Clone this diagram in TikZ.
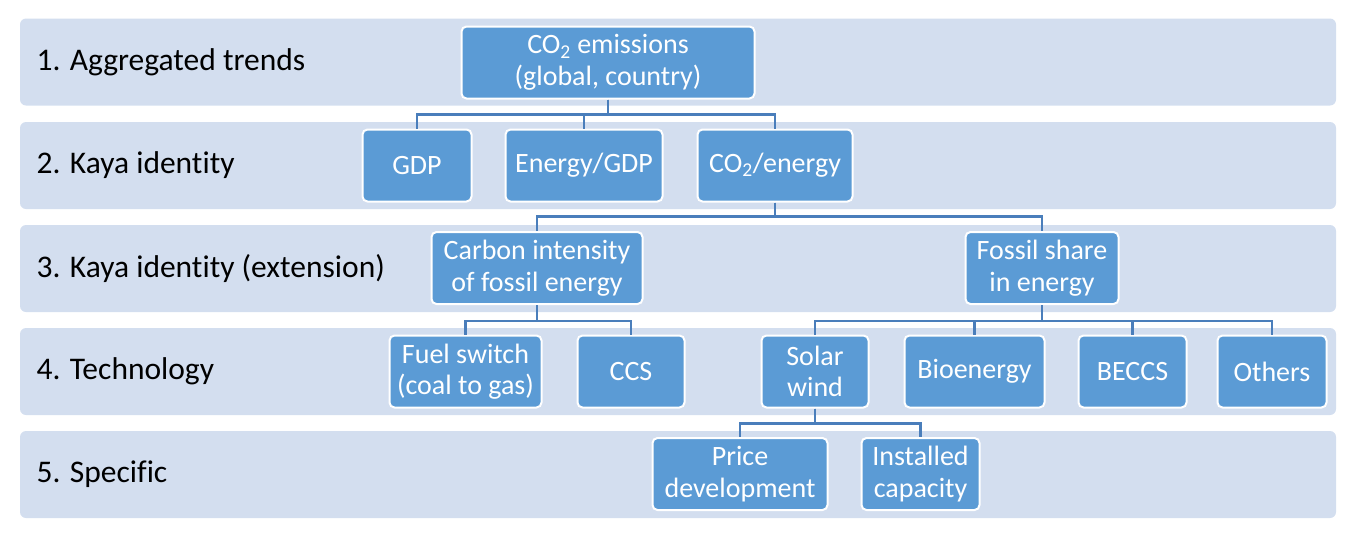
\documentclass[tikz,border=0pt]{standalone}
\usepackage{fontspec}
\setmainfont[Ligatures={NoCommon}]{Carlito}
\usetikzlibrary{positioning}
\definecolor{bandblue}{HTML}{D3DEEF}
\definecolor{boxblue}{HTML}{5B9BD5}
\definecolor{linkblue}{HTML}{4A7EBB}
\tikzset{
  band/.style={
    fill=bandblue,
    draw=none,
    rounded corners=6pt,
    minimum width=1316pt,
    minimum height=87pt,
    inner sep=0pt
  },
  level/.style={
    anchor=west,
    text=black,
    font=\fontsize{31.5}{36}\selectfont
  },
  item/.style={
    draw=white,
    line width=2pt,
    fill=boxblue,
    rounded corners=5pt,
    minimum height=72pt,
    inner sep=2pt,
    align=center,
    text=white,
    font=\fontsize{28}{31.5}\selectfont
  },
  link/.style={
    draw=linkblue,
    line width=2.2pt
  }
}

\begin{document}
\begin{tikzpicture}[x=1pt,y=-1pt]
  \useasboundingbox (0,0) rectangle (1355,539);

  % layers
  \node[band] (band1) at (678,62) {};
  \node[band] (band2) at (678,165.5) {};
  \node[band] (band3) at (678,268.5) {};
  \node[band] (band4) at (678,371.5) {};
  \node[band] (band5) at (678,474.5) {};

  \node[level] (lab1) at (33,62) {1. Aggregated trends};
  \node[level] (lab2) at (33,165.5) {2. Kaya identity};
  \node[level] (lab3) at (33,268.5) {3. Kaya identity (extension)};
  \node[level] (lab4) at (33,371.5) {4. Technology};
  \node[level] (lab5) at (33,474.5) {5. Specific};

  % level 1 and 2
  \node[item, minimum width=293pt] (co2) at (608,62.5)
    {CO\textsubscript{2} emissions\\(global, country)};
  \node[item, minimum width=109pt] (gdp) at (417,165.5) {GDP};
  \node[item, minimum width=157pt] (energy) at (584,165.5) {Energy/GDP};
  \node[item, minimum width=155pt] (intensity) at (775,165.5)
    {CO\textsubscript{2}/energy};

  % level 3
  \node[item, minimum width=211pt] (carbon) at (537,268)
    {Carbon intensity\\of fossil energy};
  \node[item, minimum width=153pt] (fossil) at (1042,268)
    {Fossil share\\in energy};

  % level 4
  \node[item, minimum width=152pt] (switch) at (465.5,371.5)
    {Fuel switch\\(coal to gas)};
  \node[item, minimum width=107pt] (ccs) at (631,371.5) {CCS};
  \node[item, minimum width=107pt] (solar) at (815,371.5) {Solar\\wind};
  \node[item, minimum width=140pt] (bio) at (974.5,371.5) {Bioenergy};
  \node[item, minimum width=108pt] (beccs) at (1132.5,371.5) {BECCS};
  \node[item, minimum width=109pt] (others) at (1272,371.5) {Others};

  % level 5
  \node[item, minimum width=175pt] (price) at (740,474) {Price\\development};
  \node[item, minimum width=118pt] (capacity) at (920.5,474)
    {Installed\\capacity};

  % tree links
  \draw[link] (co2.south) -- ++(0,15) -| (gdp.north);
  \draw[link] (co2.south) -- ++(0,15) -| (energy.north);
  \draw[link] (co2.south) -- ++(0,15) -| (intensity.north);

  \draw[link] (intensity.south) -- ++(0,14) -| (carbon.north);
  \draw[link] (intensity.south) -- ++(0,14) -| (fossil.north);

  \draw[link] (carbon.south) -- ++(0,16) -| (switch.north);
  \draw[link] (carbon.south) -- ++(0,16) -| (ccs.north);

  \draw[link] (fossil.south) -- ++(0,16) -| (solar.north);
  \draw[link] (fossil.south) -- ++(0,16) -| (bio.north);
  \draw[link] (fossil.south) -- ++(0,16) -| (beccs.north);
  \draw[link] (fossil.south) -- ++(0,16) -| (others.north);

  \draw[link] (solar.south) -- ++(0,15) -| (price.north);
  \draw[link] (solar.south) -- ++(0,15) -| (capacity.north);
\end{tikzpicture}
\end{document}
